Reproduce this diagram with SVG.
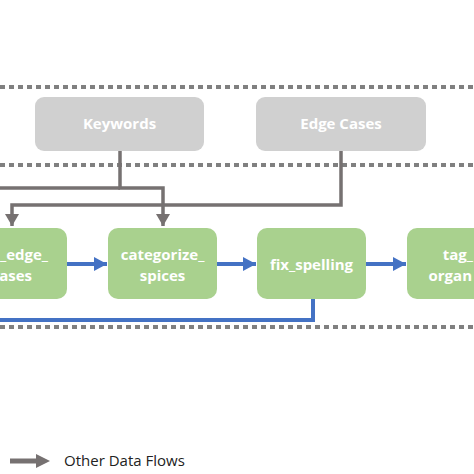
<svg xmlns="http://www.w3.org/2000/svg" width="474" height="474" viewBox="0 0 474 474">
<style>
.dot{stroke:#808080;stroke-width:4;stroke-dasharray:5 4;fill:none}
.gbox{fill:#d0d0d0}
.nbox{fill:#a9d18e}
.t{font-family:"Open Sans","Noto Sans","Liberation Sans",sans-serif;font-weight:bold;font-size:15px;fill:#ffffff;text-anchor:middle}
.g{stroke:#767171;stroke-width:3.5;fill:none}
.b{stroke:#4472c4;stroke-width:4;fill:none}
</style>
<defs>
<marker id="ga" markerUnits="userSpaceOnUse" markerWidth="14" markerHeight="14" refX="12" refY="7" orient="auto"><path d="M0,0 L12,7 L0,14 Z" fill="#767171"/></marker>
<marker id="ba" markerUnits="userSpaceOnUse" markerWidth="14" markerHeight="14" refX="13" refY="7" orient="auto"><path d="M0,0 L13,7 L0,14 Z" fill="#4472c4"/></marker>
</defs>
<rect width="474" height="474" fill="#ffffff"/>
<g id="lanes">
<line class="dot" x1="0" y1="87" x2="474" y2="87"/>
<line class="dot" x1="0" y1="165" x2="474" y2="165"/>
<line class="dot" x1="0" y1="327" x2="474" y2="327"/>
</g>
<g id="connectors">
<path class="g" d="M120,151 V188 H163 V226" marker-end="url(#ga)"/>
<path class="g" d="M120,188 H0"/>
<path class="g" d="M341,151 V205 H12 V226" marker-end="url(#ga)"/>
<path class="b" d="M67,264 H107" marker-end="url(#ba)"/>
<path class="b" d="M217,264 H256" marker-end="url(#ba)"/>
<path class="b" d="M366,264 H406" marker-end="url(#ba)"/>
<path class="b" d="M313,299 V320 H0"/>
<path d="M10,461 H38" stroke="#767171" stroke-width="5" fill="none"/>
<path d="M36,454 L50,461 L36,468 Z" fill="#767171"/>
</g>
<g id="keywords">
<rect class="gbox" x="35" y="97" width="169" height="54" rx="9"/>
<text class="t" x="119.5" y="129">Keywords</text>
</g>
<g id="edge-cases">
<rect class="gbox" x="256" y="97" width="170" height="54" rx="9"/>
<text class="t" x="341" y="129">Edge Cases</text>
</g>
<g id="tag-edge-cases">
<rect class="nbox" x="-42" y="228" width="109" height="71" rx="10"/>
<text class="t" x="48" y="260" style="text-anchor:end">_edge_</text>
<text class="t" x="32" y="281" style="text-anchor:end">ases</text>
</g>
<g id="categorize-spices">
<rect class="nbox" x="108" y="228" width="109" height="71" rx="10"/>
<text class="t" x="162.5" y="260">categorize_</text>
<text class="t" x="162.5" y="281">spices</text>
</g>
<g id="fix-spelling">
<rect class="nbox" x="257" y="228" width="109" height="71" rx="10"/>
<text class="t" x="311.5" y="270">fix_spelling</text>
</g>
<g id="tag-organ">
<rect class="nbox" x="407" y="228" width="109" height="71" rx="10"/>
<text class="t" x="473" y="260" style="text-anchor:end">tag_</text>
<text class="t" x="472" y="281" style="text-anchor:end">organ</text>
</g>
<g id="legend">
<text x="64" y="466" style="font-family:'Open Sans','Noto Sans','Liberation Sans',sans-serif;font-size:15px;fill:#222222">Other Data Flows</text>
</g>
</svg>
